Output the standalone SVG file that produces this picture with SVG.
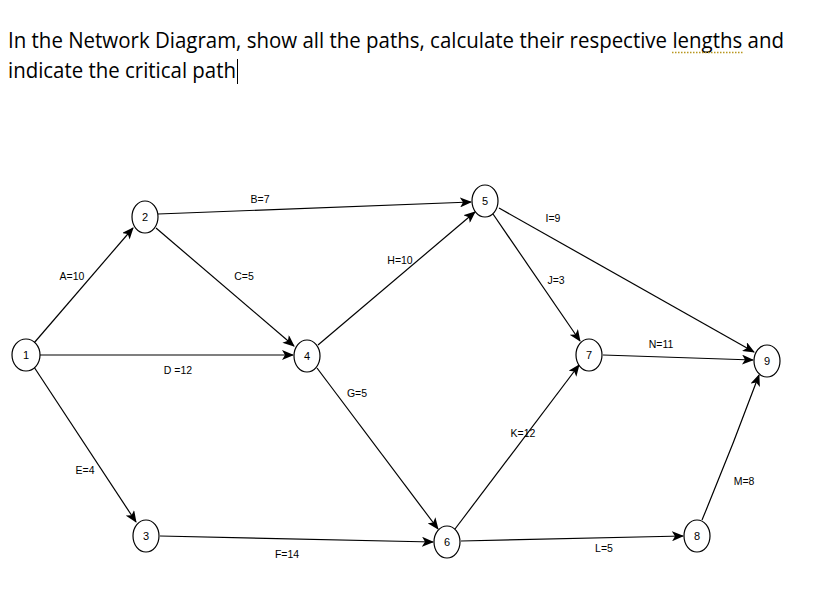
<svg xmlns="http://www.w3.org/2000/svg" width="831" height="589" viewBox="0 0 831 589">
<defs>
<marker id="arr" viewBox="0 0 12 10" refX="11" refY="5" markerWidth="12" markerHeight="10" markerUnits="userSpaceOnUse" orient="auto">
<path d="M0,0 L12,5 L0,10 L3,5 Z" fill="#000"/>
</marker>
</defs>
<style>
.bg{fill:#fff}
.node ellipse{fill:#fff;stroke:#000;stroke-width:1.2}
.node text{font-family:"Liberation Sans",Arial,sans-serif;font-size:11px;fill:#000;text-anchor:middle}
.edge{stroke:#000;stroke-width:1.2;fill:none;marker-end:url(#arr)}
.lbl{font-family:"Liberation Sans",Arial,sans-serif;font-size:10.5px;fill:#000;text-anchor:middle}
.title{font-family:"Open Sans","Liberation Sans",sans-serif;font-size:21px;fill:#000}
</style>
<rect class="bg" x="0" y="0" width="831" height="589"/>
<g id="title">
<text class="title" x="8" y="48" textLength="776" lengthAdjust="spacingAndGlyphs">In the Network Diagram, show all the paths, calculate their respective lengths and</text>
<text class="title" x="8" y="78" textLength="228" lengthAdjust="spacingAndGlyphs">indicate the critical path</text>
<line x1="672" y1="52.5" x2="744" y2="52.5" stroke="#b8961e" stroke-width="1.5" stroke-dasharray="1.5,1.5"/>
<line x1="237.5" y1="59" x2="237.5" y2="84" stroke="#000" stroke-width="1"/>
</g>
<g id="connectors">
<line class="edge" x1="34" y1="343" x2="133" y2="228"/>
<line class="edge" x1="158" y1="214" x2="471" y2="202"/>
<line class="edge" x1="156" y1="228" x2="294" y2="346"/>
<line class="edge" x1="40" y1="355" x2="293" y2="355"/>
<line class="edge" x1="34" y1="367" x2="136" y2="522"/>
<line class="edge" x1="318" y1="345" x2="475" y2="212"/>
<line class="edge" x1="317" y1="368" x2="438" y2="529"/>
<line class="edge" x1="493" y1="214" x2="580" y2="341"/>
<line class="edge" x1="499" y1="208" x2="754" y2="352"/>
<line class="edge" x1="603" y1="355" x2="753" y2="360"/>
<line class="edge" x1="160" y1="536" x2="433" y2="542"/>
<line class="edge" x1="455" y1="529" x2="579" y2="365"/>
<line class="edge" x1="461" y1="541" x2="683" y2="536"/>
<path class="edge" d="M702,520 Q732,448 759,375"/>
</g>
<g id="labels">
<text class="lbl" x="260" y="203">B=7</text>
<text class="lbl" x="244" y="280">C=5</text>
<text class="lbl" x="72" y="280">A=10</text>
<text class="lbl" x="178" y="374">D =12</text>
<text class="lbl" x="85" y="474">E=4</text>
<text class="lbl" x="287" y="558">F=14</text>
<text class="lbl" x="400" y="264">H=10</text>
<text class="lbl" x="357" y="397">G=5</text>
<text class="lbl" x="553" y="222">I=9</text>
<text class="lbl" x="556" y="284">J=3</text>
<text class="lbl" x="523" y="437">K=12</text>
<text class="lbl" x="661" y="348">N=11</text>
<text class="lbl" x="604" y="552">L=5</text>
<text class="lbl" x="744" y="485">M=8</text>
</g>
<g id="n1" class="node"><ellipse cx="26" cy="355" rx="14" ry="16"/><text x="26" y="359">1</text></g>
<g id="n2" class="node"><ellipse cx="145" cy="217" rx="13" ry="16"/><text x="145" y="221">2</text></g>
<g id="n3" class="node"><ellipse cx="146" cy="536" rx="13" ry="16"/><text x="146" y="540">3</text></g>
<g id="n4" class="node"><ellipse cx="307" cy="356" rx="13" ry="16"/><text x="307" y="360">4</text></g>
<g id="n5" class="node"><ellipse cx="485" cy="201" rx="13" ry="16"/><text x="485" y="205">5</text></g>
<g id="n6" class="node"><ellipse cx="447" cy="542" rx="13" ry="16"/><text x="447" y="546">6</text></g>
<g id="n7" class="node"><ellipse cx="589" cy="355" rx="13" ry="16"/><text x="589" y="359">7</text></g>
<g id="n8" class="node"><ellipse cx="697" cy="536" rx="13" ry="16"/><text x="697" y="540">8</text></g>
<g id="n9" class="node"><ellipse cx="767" cy="361" rx="13" ry="16"/><text x="767" y="365">9</text></g>
</svg>
